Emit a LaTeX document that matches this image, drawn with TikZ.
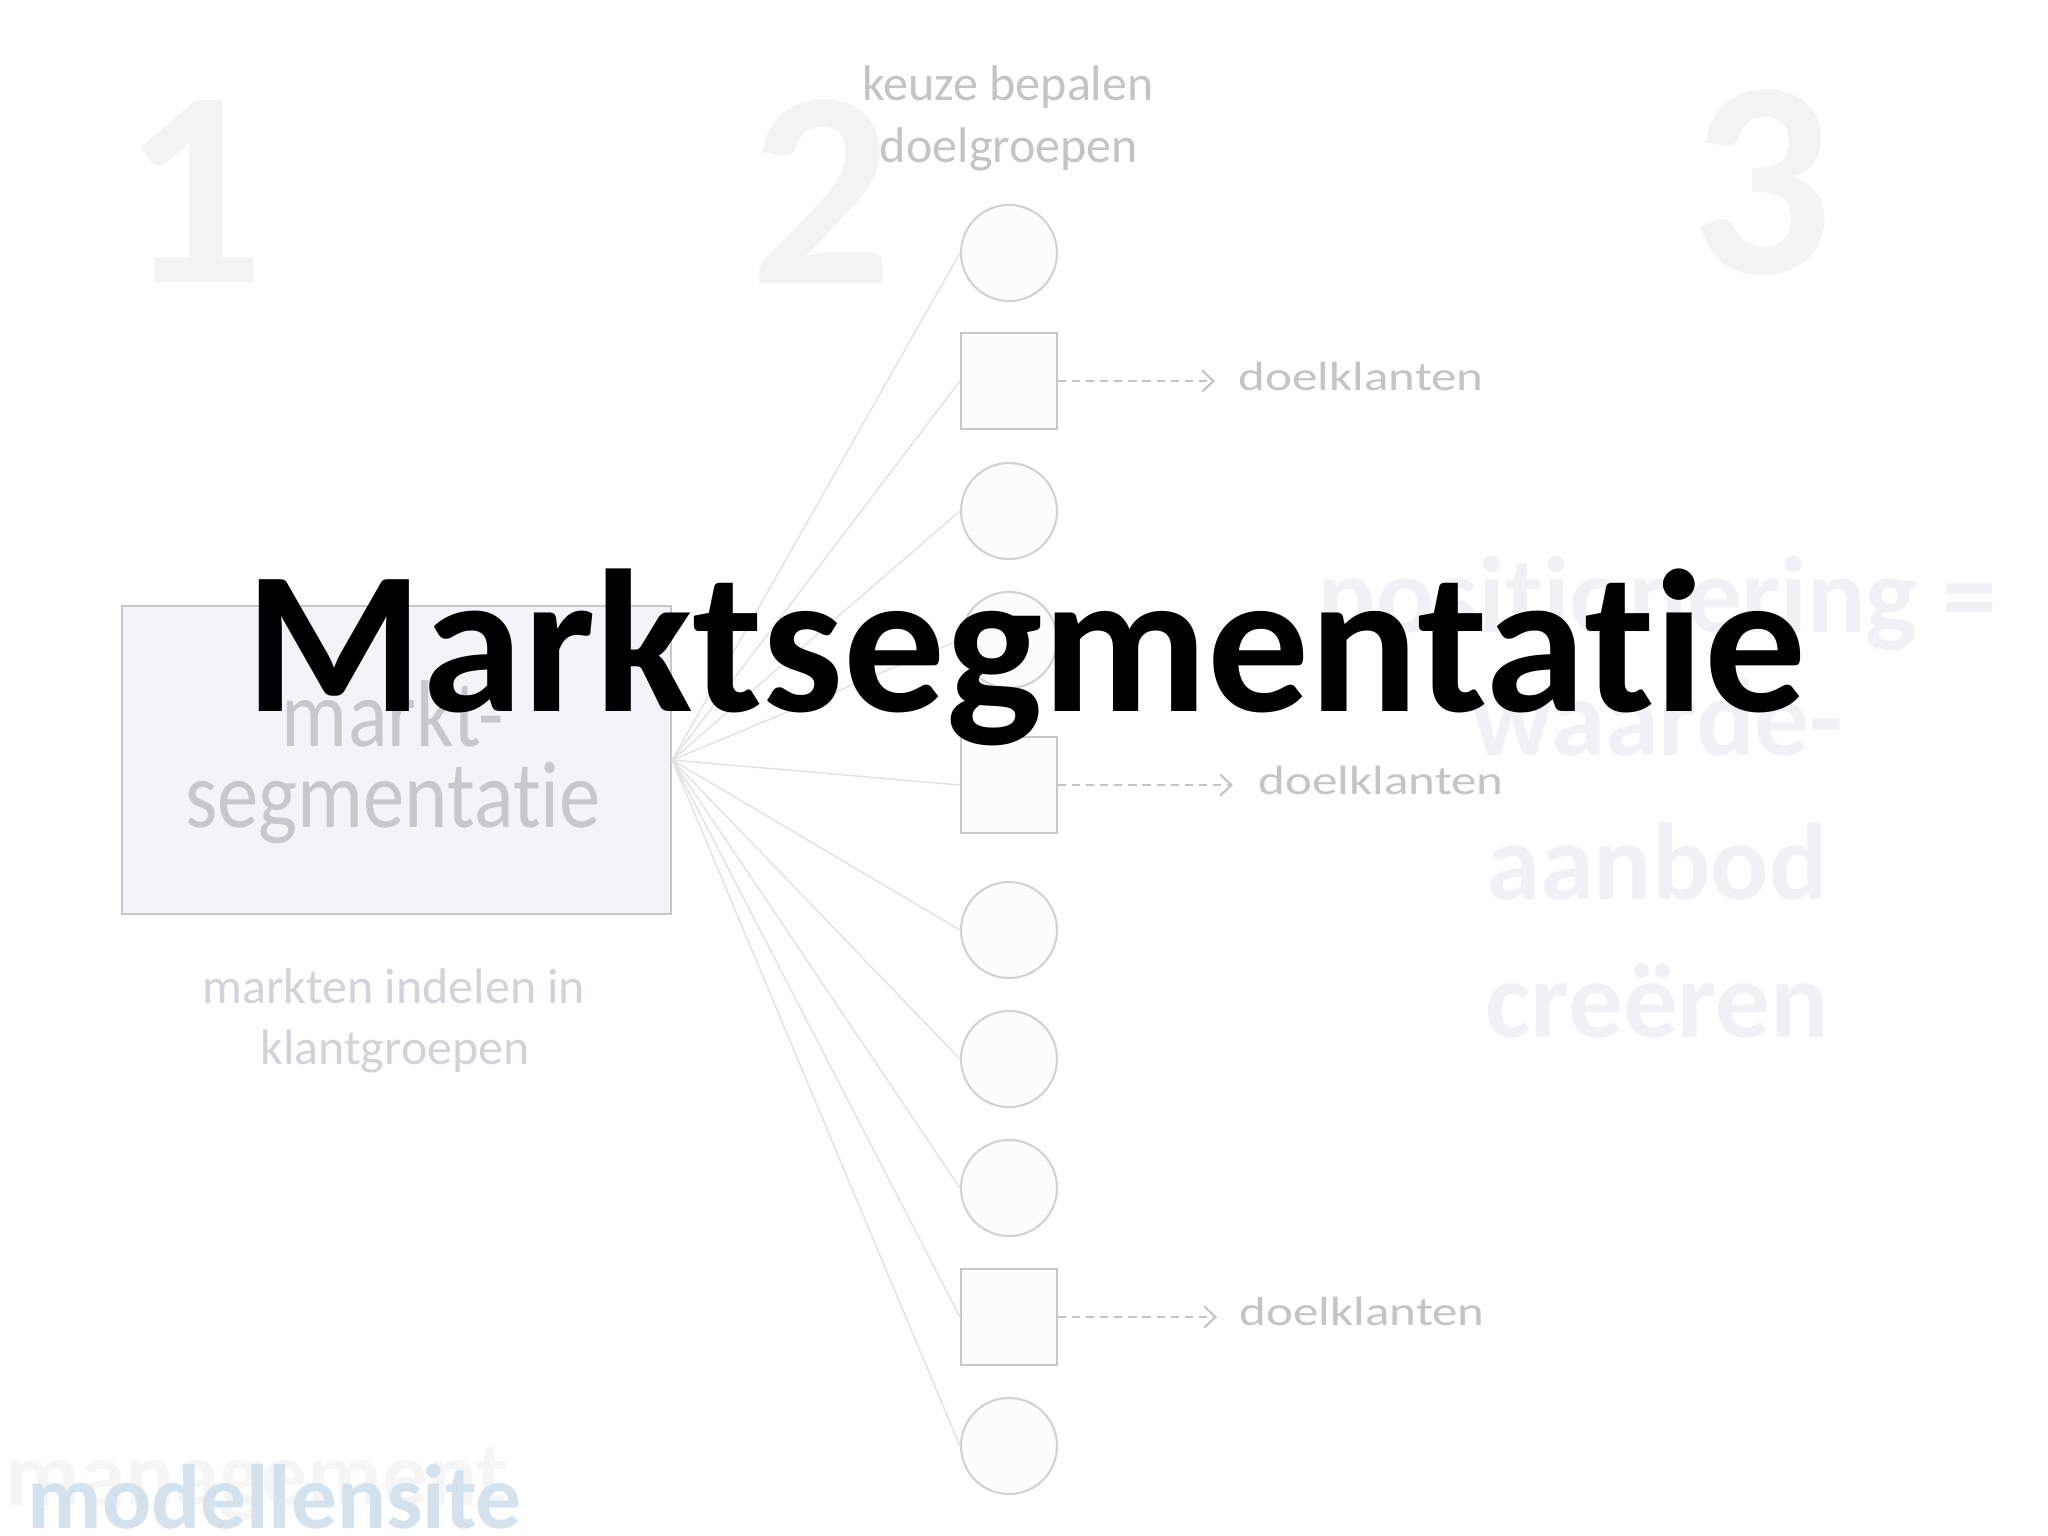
\documentclass[tikz,border=0pt]{standalone}
\usepackage{fontspec}
\setmainfont{Carlito}[Ligatures={NoCommon,NoRare,NoContextual}]
\usepackage{graphicx}
\usetikzlibrary{arrows.meta}
\definecolor{digitgray}{HTML}{F3F3F3}
\definecolor{ghostgray}{HTML}{F0F1F4}
\definecolor{ltgray}{HTML}{C4C4C4}
\definecolor{mkgray}{HTML}{D2D3D8}
\definecolor{boxtxt}{HTML}{C6C8CE}
\definecolor{boxfill}{HTML}{F3F4FA}
\definecolor{boxdraw}{HTML}{C8C8C8}
\definecolor{shapegray}{HTML}{D2D2D2}
\definecolor{sqgray}{HTML}{C8C8C8}
\definecolor{shapefill}{HTML}{FCFCFD}
\definecolor{fangray}{HTML}{E2E2E2}
\definecolor{arrgray}{HTML}{C4C4C4}
\definecolor{siteblue}{HTML}{D4E2EE}
\definecolor{mgmtgray}{HTML}{F5F5F5}
\tikzset{
  bigdigit/.style={font=\fontsize{79.7pt}{80pt}\selectfont\bfseries, text=digitgray, inner sep=0pt, anchor=base},
  ghost/.style={font=\fontsize{31pt}{32pt}\selectfont\bfseries, text=ghostgray, inner sep=0pt, anchor=base},
  lighttxt/.style={font=\fontsize{14.23pt}{15pt}\selectfont, text=ltgray, inner sep=0pt, anchor=base},
  mktxt/.style={font=\fontsize{14.2pt}{15pt}\selectfont, text=mkgray, inner sep=0pt, anchor=base},
  dktxt/.style={font=\fontsize{14.5pt}{15pt}\selectfont, text=ltgray, inner sep=0pt, anchor=base west},
  boxtext/.style={font=\fontsize{23.5pt}{24pt}\selectfont, text=boxtxt, inner sep=0pt, anchor=base},
  logo/.style={font=\fontsize{26pt}{27pt}\selectfont\bfseries, inner sep=0pt, anchor=base west},
  circ/.style={circle, draw=shapegray, fill=shapefill, line width=0.6pt, minimum size=0.96cm, inner sep=0pt},
  sq/.style={rectangle, draw=sqgray, fill=shapefill, line width=0.6pt, minimum width=0.96cm, minimum height=0.96cm, inner sep=0pt},
  segbox/.style={rectangle, draw=boxdraw, fill=boxfill, line width=0.6pt, minimum width=5.49cm, minimum height=3.08cm, inner sep=0pt},
  fan/.style={draw=fangray, line width=0.4pt},
  darr/.style={draw=arrgray, line width=0.5pt, dash pattern=on 2.3pt off 1.7pt, -{Straight Barb[length=3.2pt, width=6pt, line width=0.6pt]}},
  titletxt/.style={font=\fontsize{57.8pt}{58pt}\selectfont\bfseries, text=black, inner sep=0pt, anchor=base}
}
\begin{document}
\begin{tikzpicture}[x=0.01cm, y=-0.01cm]
\useasboundingbox (0,0) rectangle (2048,1536);
\fill[white] (0,0) rectangle (2048,1536);

% faint background numerals
\node[bigdigit] (n1) at (194,282) {1};
\node[bigdigit] (n2) at (822,283) {2};
\node[bigdigit] (n3) at (1762,273) {3};

% faint positioning text
\node[ghost] (p1) at (1657,632) {positionering =};
\node[ghost] (p2) at (1657,755) {waarde-};
\node[ghost] (p3) at (1657,899) {aanbod};
\node[ghost] (p4) at (1657,1037) {creëren};

% logo
\node[logo, text=mgmtgray] (mgmt) at (5,1505) {management};
\node[logo, text=siteblue] (site) at (27,1528) {modellensite};

% top label
\node[lighttxt] (k1) at (1008,100) {keuze bepalen};
\node[lighttxt] (k2) at (1009,162) {doelgroepen};

% segmentation box
\node[segbox] (seg) at (396.5,760) {};
\node[boxtext] (b1) at (393,746) {\scalebox{1}[1.15]{markt-}};
\node[boxtext] (b2) at (393,827) {\scalebox{1}[1.15]{segmentatie}};
\node[mktxt] (m1) at (394,1003) {markten indelen in};
\node[mktxt] (m2) at (395,1064) {klantgroepen};

% column of segments
\node[circ] (c1) at (1009,253) {};
\node[sq]   (s2) at (1009,381) {};
\node[circ] (c3) at (1009,511) {};
\node[circ] (c4) at (1009,640) {};
\node[sq]   (s5) at (1009,785) {};
\node[circ] (c6) at (1009,930) {};
\node[circ] (c7) at (1009,1059) {};
\node[circ] (c8) at (1009,1188) {};
\node[sq]   (s9) at (1009,1317) {};
\node[circ] (c10) at (1009,1446) {};

% fan connectors
\foreach \t in {c1,s2,c3,c4,s5,c6,c7,c8,s9,c10}
  \draw[fan] (seg.east) -- (\t.west);

% dashed arrows to target customers
\coordinate (a2) at (1215,381);
\coordinate (a5) at (1233,785);
\coordinate (a9) at (1217,1317);
\draw[darr] (s2.east) -- (a2);
\draw[darr] (s5.east) -- (a5);
\draw[darr] (s9.east) -- (a9);
\node[dktxt] (d2) at (1238,390) {\scalebox{1}[0.8]{doelklanten}};
\node[dktxt] (d5) at (1258,794) {\scalebox{1}[0.8]{doelklanten}};
\node[dktxt] (d9) at (1239,1325) {\scalebox{1}[0.8]{doelklanten}};

% title
\node[titletxt] (title) at (1026,711) {Marktsegmentatie};
\end{tikzpicture}
\end{document}
